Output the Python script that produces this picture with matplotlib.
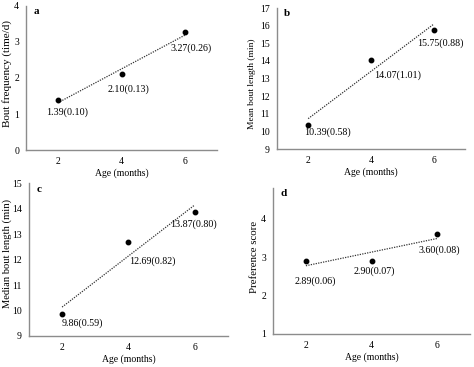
import numpy as np
import matplotlib
matplotlib.use("Agg")
import matplotlib.pyplot as plt

plt.rcParams['font.family'] = ['Liberation Serif', 'DejaVu Serif']

ages = [2, 4, 6]
bout_freq = [1.39, 2.10, 3.27]
bout_freq_se = [0.10, 0.13, 0.26]
mean_len = [10.39, 14.07, 15.75]
mean_len_se = [0.58, 1.01, 0.88]
median_len = [9.86, 12.69, 13.87]
median_len_se = [0.59, 0.82, 0.80]
pref = [2.89, 2.90, 3.60]
pref_se = [0.06, 0.07, 0.08]

panels = [
    dict(letter='a', y=bout_freq, se=bout_freq_se, ylabel='Bout frequency (time/d)', ylfs=8.0,
         ylpos=(-0.100, 0.53),
         ylim=(0, 4), yticks=[0, 1, 2, 3, 4],
         rect=[0.055, 0.591, 0.403, 0.393],
         lab=[(2.3, 1.05), (4.22, 1.69), (6.19, 2.83)]),
    dict(letter='b', y=mean_len, se=mean_len_se, ylabel='Mean bout length (min)', ylfs=6.8,
         ylpos=(-0.133, 0.46),
         ylim=(9, 17), yticks=list(range(9, 18)),
         rect=[0.584, 0.594, 0.397, 0.384],
         lab=[(2.6, 9.98), (4.84, 13.2), (6.2, 15.0)]),
    dict(letter='c', y=median_len, se=median_len_se, ylabel='Median bout length (min)', ylfs=7.6,
         ylpos=(-0.11, 0.54),
         ylim=(9, 15), yticks=list(range(9, 16)),
         rect=[0.061, 0.0845, 0.42, 0.4165],
         lab=[(2.6, 9.5), (4.73, 11.95), (5.97, 13.4)]),
    dict(letter='d', y=pref, se=pref_se, ylabel='Preference score', ylfs=7.8,
         ylpos=(-0.096, 0.53),
         ylim=(1, 4.8), yticks=[1, 2, 3, 4],
         rect=[0.576, 0.090, 0.416, 0.398],
         lab=[(2.3, 2.38), (4.07, 2.63), (6.07, 3.17)]),
]

fig = plt.figure(figsize=(4.74, 3.67), dpi=100)
fs = 7.2
for p in panels:
    ax = fig.add_axes(p['rect'])
    x = np.array(ages, dtype=float)
    y = np.array(p['y'])
    ax.plot(x, y, 'o', color='black', markersize=3.2, zorder=3)
    k, b = np.polyfit(x, y, 1)
    ax.plot([x[0], x[-1]], [k * x[0] + b, k * x[-1] + b], linestyle=(0, (1, 1)),
            color='#333333', linewidth=0.9)
    for (tx, ty), v, s in zip(p['lab'], p['y'], p['se']):
        ax.text(tx, ty, f'{v:.2f}({s:.2f})', ha='center', va='center', fontsize=fs)
    ax.set_xlim(1, 7)
    ax.set_ylim(*p['ylim'])
    ax.set_xticks(ages)
    ax.set_yticks(p['yticks'])
    ax.tick_params(length=0, labelsize=7, pad=5)
    for sp in ['top', 'right']:
        ax.spines[sp].set_visible(False)
    for sp in ['left', 'bottom']:
        ax.spines[sp].set_color('#8c8c8c')
        ax.spines[sp].set_linewidth(1.0)
    ax.set_xlabel('Age (months)', fontsize=7, labelpad=2)
    ax.set_ylabel(p['ylabel'], fontsize=p['ylfs'], va='center')
    ax.yaxis.set_label_coords(*p['ylpos'])
    ax.text(0.04, 0.99, p['letter'], transform=ax.transAxes, fontsize=8,
            fontweight='bold', va='top', ha='left')

fig.savefig('out.png', dpi=100)
